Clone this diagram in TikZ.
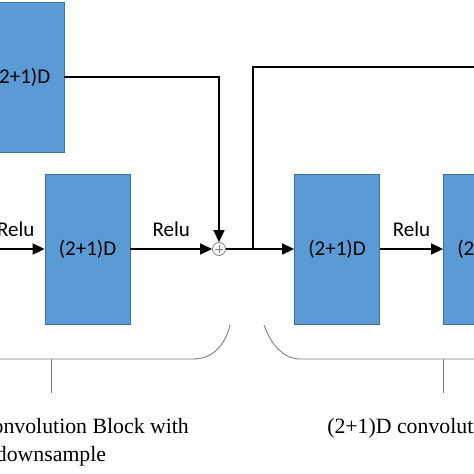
\documentclass[tikz,border=0pt]{standalone}
\usepackage{fontspec}
\setmainfont{Liberation Serif}
\setsansfont{Carlito}
\usetikzlibrary{arrows.meta}
\definecolor{boxblue}{HTML}{5B9BD5}
\definecolor{boxedge}{HTML}{41719C}
\tikzset{
	convbox/.style={draw=boxedge,fill=boxblue,line width=0.8pt,minimum width=85pt,minimum height=150pt,inner sep=0pt,font=\sffamily\fontsize{21}{24}\selectfont},
	relu/.style={font=\sffamily\fontsize{21}{24}\selectfont,inner sep=0pt},
	brace/.style={draw=gray,line width=0.9pt},
	caption/.style={font=\rmfamily\fontsize{21.8}{28}\selectfont,align=center,inner sep=0pt}
}
\begin{document}
\begin{tikzpicture}[x=1pt,y=-1pt,line width=1.6pt,>={Triangle[length=12pt,width=11pt]}]
	\useasboundingbox (0,0) rectangle (474,474);
	\clip (0,0) rectangle (474,474);
	\node[convbox] (b1) at (21.5,77) {(2+1)D};
	\node[convbox] (b2) at (87.5,249) {(2+1)D};
	\node[convbox] (b3) at (337,249) {(2+1)D};
	\node[convbox] (b4) at (486,249) {(2+1)D};
	\node[draw=gray,circle,minimum size=13pt,inner sep=0pt,line width=0.8pt] (sum) at (219,249) {};
	\draw[gray,line width=0.8pt,shorten >=2.5pt,shorten <=2.5pt](sum.north)--(sum.south);
	\draw[gray,line width=0.8pt,shorten >=2.5pt,shorten <=2.5pt](sum.west)--(sum.east);
	\coordinate (in) at (-13,249);
	\draw[->](in)--(b2.west)node[relu,midway,above=12pt]{Relu};
	\draw[->](b2.east)--(sum.west)node[relu,midway,above=12pt]{Relu};
	\draw[->](b1.east)-|(sum.north);
	\draw[->](sum.east)--(b3.west);
	\draw[->](b3.east)--(b4.west)node[relu,midway,above=12pt]{Relu};
	\coordinate (split) at (253,249);
	\coordinate (skip) at (480,67);
	\draw(split)|-(skip);
	%braces below the blocks
	\draw[brace](-5,359)--(193,359) .. controls (215,359) and (226,342) .. (230,325);
	\draw[brace](264,325) .. controls (270,342) and (282,359) .. (300,359)--(480,359);
	\coordinate (t1) at (51,393);
	\coordinate (t2) at (443,393);
	\draw[brace](51,359)--(t1);
	\draw[brace](443,359)--(t2);
	\node[caption,anchor=north] (c1) at (51,418) {(2+1)D convolution Block with\\downsample};
	\node[caption,anchor=north] (c2) at (443,418) {(2+1)D convolution Block};
\end{tikzpicture}
\end{document}
